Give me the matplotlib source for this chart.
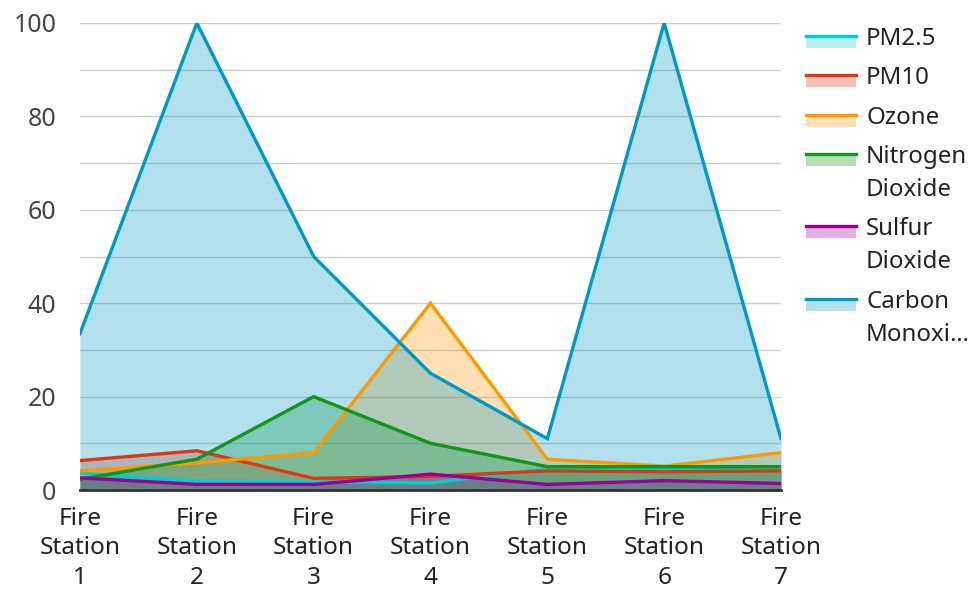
import matplotlib
matplotlib.use("Agg")
import matplotlib.pyplot as plt
from matplotlib.patches import Rectangle
from matplotlib.lines import Line2D

plt.rcParams['font.family'] = ['Noto Sans', 'DejaVu Sans']

stations = ["Fire\nStation\n1", "Fire\nStation\n2", "Fire\nStation\n3", "Fire\nStation\n4",
            "Fire\nStation\n5", "Fire\nStation\n6", "Fire\nStation\n7"]

pm25 = [3.6, 1.9, 1.8, 1.5, 4.5, 4.5, 4.5]
pm10 = [6.3, 8.4, 2.5, 2.9, 4.1, 3.9, 4.1]
ozone = [4.1, 5.8, 8.0, 40, 6.6, 5.1, 8.0]
no2 = [2.3, 6.6, 20, 10, 5.0, 5.0, 5.0]
so2 = [2.6, 1.2, 1.2, 3.4, 1.2, 2.0, 1.4]
co = [33.5, 100, 50, 25, 11, 100, 11]

series_names = [["PM2.5"], ["PM10"], ["Ozone"], ["Nitrogen", "Dioxide"],
                ["Sulfur", "Dioxide"], ["Carbon", "Monoxi…"]]
series_values = [pm25, pm10, ozone, no2, so2, co]
colors = ["#00CED1", "#DC3912", "#FF9900", "#109618", "#990099", "#0099C6"]

W, H = 971, 594
fig = plt.figure(figsize=(W / 100, H / 100), dpi=100)
ax = fig.add_axes([80 / W, 1 - 490 / H, (781 - 80) / W, (490 - 23) / H])

x = list(range(len(stations)))
for vals, c in zip(series_values, colors):
    ax.fill_between(x, 0, vals, color=c, alpha=0.3, linewidth=0)
for vals, c in zip(series_values, colors):
    ax.plot(x, vals, color=c, linewidth=2.4, solid_joinstyle='miter')

ax.set_xlim(0, len(stations) - 1)
ax.set_ylim(0, 100)
ax.set_yticks(range(0, 101, 20))
ax.set_yticks(range(10, 100, 20), minor=True)
ax.grid(axis='y', which='both', color='#cccccc', linewidth=1)
ax.set_axisbelow(True)
ax.set_xticks(x)
ax.set_xticklabels(stations, fontsize=17.6, color='#222222', linespacing=1.32)
ax.tick_params(axis='x', length=0, pad=12)
ax.tick_params(axis='y', which='both', length=0, pad=17, labelsize=18, labelcolor='#444444')
for s in ['top', 'right', 'left']:
    ax.spines[s].set_visible(False)
ax.spines['bottom'].set_color('#333333')
ax.spines['bottom'].set_linewidth(2)
ax.spines['bottom'].set_zorder(5)

# legend: swatch (light patch with a line on its top edge) and label lines
first_baselines = [45, 84, 124, 163, 235, 308]
line_step = 33
for lines, c, base in zip(series_names, colors, first_baselines):
    x0, x1 = 806, 856
    ymid = base - 9
    fig.add_artist(Rectangle((x0 / W, 1 - (ymid + 12) / H), (x1 - x0) / W, 12 / H,
                             transform=fig.transFigure, facecolor=c, alpha=0.3,
                             linewidth=0))
    fig.add_artist(Line2D([x0 / W, x1 / W], [1 - ymid / H] * 2,
                          transform=fig.transFigure, color=c, linewidth=2.4))
    for i, t in enumerate(lines):
        fig.text(866 / W, 1 - (base + i * line_step) / H, t, fontsize=17.3,
                 color='#222222', va='baseline', ha='left')

fig.savefig("out.png", dpi=100)
